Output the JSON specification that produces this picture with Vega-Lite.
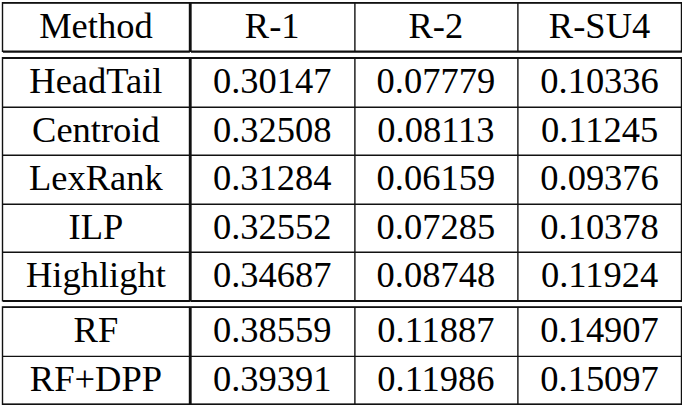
{
  "$schema": "https://vega.github.io/schema/vega-lite/v6.json",
  "background": "white",
  "padding": {"left": 1.4, "top": 1.5, "right": 0, "bottom": 0},
  "config": {
    "view": {"stroke": "#111", "strokeWidth": 1.4},
    "axis": {
      "grid": true, "gridColor": "#111", "gridOpacity": 1, "gridWidth": 1.4,
      "labels": false, "ticks": false, "domain": false, "tickSize": 0,
      "labelPadding": 0, "titlePadding": 0, "offset": 0,
      "tickBand": "extent", "minExtent": 0, "maxExtent": 0
    },
    "text": {"font": "Liberation Serif", "fontSize": 36.5, "color": "black"}
  },
  "data": {
    "values": [
      {"section": "head", "Method": "Method", "R-1": "R-1", "R-2": "R-2", "R-SU4": "R-SU4"},
      {"section": "base", "Method": "HeadTail", "R-1": "0.30147", "R-2": "0.07779", "R-SU4": "0.10336"},
      {"section": "base", "Method": "Centroid", "R-1": "0.32508", "R-2": "0.08113", "R-SU4": "0.11245"},
      {"section": "base", "Method": "LexRank", "R-1": "0.31284", "R-2": "0.06159", "R-SU4": "0.09376"},
      {"section": "base", "Method": "ILP", "R-1": "0.32552", "R-2": "0.07285", "R-SU4": "0.10378"},
      {"section": "base", "Method": "Highlight", "R-1": "0.34687", "R-2": "0.08748", "R-SU4": "0.11924"},
      {"section": "ours", "Method": "RF", "R-1": "0.38559", "R-2": "0.11887", "R-SU4": "0.14907"},
      {"section": "ours", "Method": "RF+DPP", "R-1": "0.39391", "R-2": "0.11986", "R-SU4": "0.15097"}
    ]
  },
  "spacing": -2.8,
  "hconcat": [
    {
      "facet": {"row": {"field": "section", "type": "nominal", "sort": ["head", "base", "ours"], "header": null}},
      "spacing": {"row": 4.2},
      "spec": {
        "width": 187,
        "height": {"step": 48.6},
        "mark": {"type": "text"},
        "encoding": {
          "y": {"field": "Method", "type": "nominal", "sort": null, "title": null,
                "scale": {"type": "band", "paddingInner": 0, "paddingOuter": 0}},
          "text": {"field": "Method", "type": "nominal"}
        }
      },
      "resolve": {"scale": {"y": "independent"}}
    },
    {
      "transform": [{"fold": ["R-1", "R-2", "R-SU4"], "as": ["col", "val"]}],
      "facet": {"row": {"field": "section", "type": "nominal", "sort": ["head", "base", "ours"], "header": null}},
      "spacing": {"row": 4.2},
      "spec": {
        "width": 491,
        "height": {"step": 48.6},
        "mark": {"type": "text"},
        "encoding": {
          "x": {"field": "col", "type": "nominal", "sort": ["R-1", "R-2", "R-SU4"], "title": null,
                "scale": {"type": "band", "paddingInner": 0, "paddingOuter": 0}},
          "y": {"field": "Method", "type": "nominal", "sort": null, "title": null,
                "scale": {"type": "band", "paddingInner": 0, "paddingOuter": 0}},
          "text": {"field": "val", "type": "nominal"}
        }
      },
      "resolve": {"scale": {"y": "independent"}}
    }
  ]
}
